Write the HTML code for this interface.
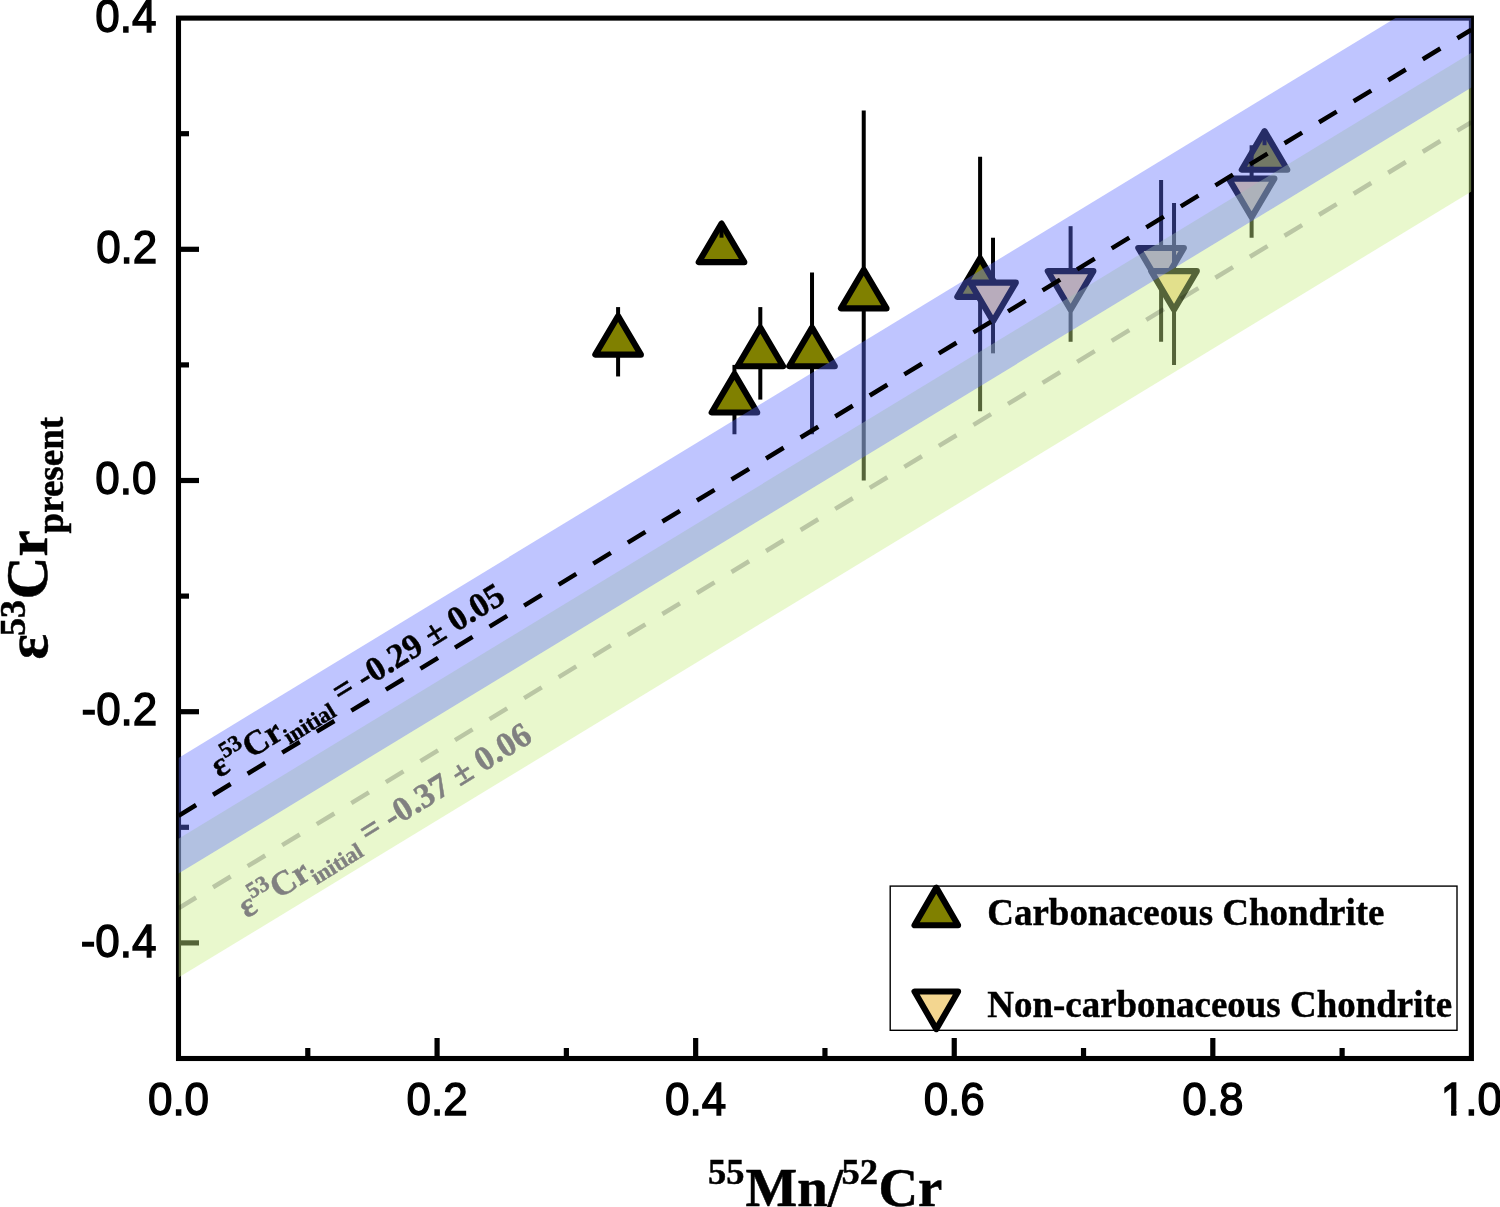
<!DOCTYPE html>
<html><head><meta charset="utf-8"><title>Mn-Cr isochron plot</title>
<style>
html,body{margin:0;padding:0;background:#fff;}
body{width:1500px;height:1207px;overflow:hidden;}
svg{display:block;}
.sans{font-family:"Liberation Sans",sans-serif;}
.serif{font-family:"Liberation Serif",serif;font-weight:bold;}
</style></head><body>
<svg width="1500" height="1207" viewBox="0 0 1500 1207">
<rect x="0" y="0" width="1500" height="1207" fill="#ffffff"/>
<defs><clipPath id="one"><path clip-rule="evenodd" d="M1400,1060H1500V1140H1400Z M1440,1109.4H1451.1V1118H1440Z M1456.4,1109.4H1465V1118H1456.4Z"/></clipPath><clipPath id="plot"><rect x="178.50" y="18.10" width="1292.90" height="1040.40"/></clipPath></defs>

<g stroke="#000" fill="none" stroke-linecap="butt">
<rect x="178.50" y="18.10" width="1292.90" height="1040.40" stroke-width="5.1"/>
<line x1="178.50" y1="942.90" x2="199.00" y2="942.90" stroke-width="5.2"/>
<line x1="178.50" y1="827.30" x2="189.00" y2="827.30" stroke-width="5.2"/>
<line x1="178.50" y1="711.70" x2="199.00" y2="711.70" stroke-width="5.2"/>
<line x1="178.50" y1="596.10" x2="189.00" y2="596.10" stroke-width="5.2"/>
<line x1="178.50" y1="480.50" x2="199.00" y2="480.50" stroke-width="5.2"/>
<line x1="178.50" y1="364.90" x2="189.00" y2="364.90" stroke-width="5.2"/>
<line x1="178.50" y1="249.30" x2="199.00" y2="249.30" stroke-width="5.2"/>
<line x1="178.50" y1="133.70" x2="189.00" y2="133.70" stroke-width="5.2"/>
<line x1="307.79" y1="1058.50" x2="307.79" y2="1048.00" stroke-width="5.2"/>
<line x1="437.08" y1="1058.50" x2="437.08" y2="1038.00" stroke-width="5.2"/>
<line x1="566.37" y1="1058.50" x2="566.37" y2="1048.00" stroke-width="5.2"/>
<line x1="695.66" y1="1058.50" x2="695.66" y2="1038.00" stroke-width="5.2"/>
<line x1="824.95" y1="1058.50" x2="824.95" y2="1048.00" stroke-width="5.2"/>
<line x1="954.24" y1="1058.50" x2="954.24" y2="1038.00" stroke-width="5.2"/>
<line x1="1083.53" y1="1058.50" x2="1083.53" y2="1048.00" stroke-width="5.2"/>
<line x1="1212.82" y1="1058.50" x2="1212.82" y2="1038.00" stroke-width="5.2"/>
<line x1="1342.11" y1="1058.50" x2="1342.11" y2="1048.00" stroke-width="5.2"/>
</g>
<line x1="618.09" y1="307.10" x2="618.09" y2="376.46" stroke="#000" stroke-width="4.0"/>
<path d="M595.29,354.65 L640.89,354.65 L618.09,316.05 Z" fill="#808000" stroke="#000" stroke-width="6.1" stroke-linejoin="round"/>
<path d="M698.72,262.17 L744.32,262.17 L721.52,223.57 Z" fill="#808000" stroke="#000" stroke-width="6.1" stroke-linejoin="round"/>
<line x1="721.52" y1="225.30" x2="721.52" y2="237.70" stroke="#000" stroke-width="4.0"/>
<line x1="734.45" y1="364.90" x2="734.45" y2="434.26" stroke="#000" stroke-width="4.0"/>
<path d="M711.65,412.45 L757.25,412.45 L734.45,373.85 Z" fill="#808000" stroke="#000" stroke-width="6.1" stroke-linejoin="round"/>
<line x1="760.31" y1="307.10" x2="760.31" y2="399.58" stroke="#000" stroke-width="4.0"/>
<path d="M737.51,366.21 L783.11,366.21 L760.31,327.61 Z" fill="#808000" stroke="#000" stroke-width="6.1" stroke-linejoin="round"/>
<line x1="812.02" y1="272.42" x2="812.02" y2="434.26" stroke="#000" stroke-width="4.0"/>
<path d="M789.22,366.21 L834.82,366.21 L812.02,327.61 Z" fill="#808000" stroke="#000" stroke-width="6.1" stroke-linejoin="round"/>
<line x1="863.74" y1="110.58" x2="863.74" y2="480.50" stroke="#000" stroke-width="4.0"/>
<path d="M840.94,308.41 L886.54,308.41 L863.74,269.81 Z" fill="#808000" stroke="#000" stroke-width="6.1" stroke-linejoin="round"/>
<line x1="980.10" y1="156.82" x2="980.10" y2="411.14" stroke="#000" stroke-width="4.0"/>
<path d="M957.30,296.85 L1002.90,296.85 L980.10,258.25 Z" fill="#808000" stroke="#000" stroke-width="6.1" stroke-linejoin="round"/>
<path d="M1241.74,169.69 L1287.34,169.69 L1264.54,131.09 Z" fill="#808000" stroke="#000" stroke-width="6.1" stroke-linejoin="round"/>
<line x1="1264.54" y1="132.82" x2="1264.54" y2="145.22" stroke="#000" stroke-width="4.0"/>
<line x1="993.03" y1="237.74" x2="993.03" y2="353.34" stroke="#000" stroke-width="4.0"/>
<path d="M970.23,282.67 L1015.83,282.67 L993.03,321.27 Z" fill="#F3D690" stroke="#000" stroke-width="6.1" stroke-linejoin="round"/>
<line x1="1070.60" y1="226.18" x2="1070.60" y2="341.78" stroke="#000" stroke-width="4.0"/>
<path d="M1047.80,271.11 L1093.40,271.11 L1070.60,309.71 Z" fill="#F3D690" stroke="#000" stroke-width="6.1" stroke-linejoin="round"/>
<line x1="1161.10" y1="179.94" x2="1161.10" y2="341.78" stroke="#000" stroke-width="4.0"/>
<path d="M1138.30,247.99 L1183.90,247.99 L1161.10,286.59 Z" fill="#F3D690" stroke="#000" stroke-width="6.1" stroke-linejoin="round"/>
<line x1="1174.03" y1="203.06" x2="1174.03" y2="364.90" stroke="#000" stroke-width="4.0"/>
<path d="M1151.23,271.11 L1196.83,271.11 L1174.03,309.71 Z" fill="#F3D690" stroke="#000" stroke-width="6.1" stroke-linejoin="round"/>
<line x1="1251.61" y1="145.26" x2="1251.61" y2="237.74" stroke="#000" stroke-width="4.0"/>
<path d="M1228.81,178.63 L1274.41,178.63 L1251.61,217.23 Z" fill="#F3D690" stroke="#000" stroke-width="6.1" stroke-linejoin="round"/>
<polygon points="178.50,838.86 1471.40,52.78 1471.40,191.50 178.50,977.58" fill="#CAEE87" fill-opacity="0.42" clip-path="url(#plot)"/>
<line x1="178.50" y1="908.22" x2="1471.40" y2="122.14" stroke="#000" stroke-opacity="0.2" stroke-width="4.5" stroke-dasharray="20.6 19.85" clip-path="url(#plot)"/>
<polygon points="178.50,757.94 1471.40,-28.14 1471.40,87.46 178.50,873.54" fill="#5F6EFF" fill-opacity="0.4" clip-path="url(#plot)"/>
<line x1="178.50" y1="815.74" x2="1471.40" y2="29.66" stroke="#000" stroke-opacity="1" stroke-width="4.5" stroke-dasharray="20.6 19.85" clip-path="url(#plot)"/>
<g class="sans" font-size="44.0" fill="#000" stroke="#000" stroke-width="1.3">
<text transform="translate(156.5,31.70) scale(1,1.05)" text-anchor="end">0.4</text>
<text transform="translate(157.3,262.90) scale(1,1.05)" text-anchor="end">0.2</text>
<text transform="translate(156.5,494.10) scale(1,1.05)" text-anchor="end">0.0</text>
<text transform="translate(157.3,725.30) scale(1,1.05)" text-anchor="end">-0.2</text>
<text transform="translate(156.5,956.50) scale(1,1.05)" text-anchor="end">-0.4</text>
<text transform="translate(178.50,1115.3) scale(1,1.05)" text-anchor="middle">0.0</text>
<text transform="translate(437.08,1115.3) scale(1,1.05)" text-anchor="middle">0.2</text>
<text transform="translate(695.66,1115.3) scale(1,1.05)" text-anchor="middle">0.4</text>
<text transform="translate(954.24,1115.3) scale(1,1.05)" text-anchor="middle">0.6</text>
<text transform="translate(1212.82,1115.3) scale(1,1.05)" text-anchor="middle">0.8</text>
<g clip-path="url(#one)"><text transform="translate(1471.40,1115.3) scale(1,1.05)" text-anchor="middle">1.0</text></g>
</g>
<text class="serif" fill="#000" stroke="#000" stroke-width="0.5"><tspan x="708.0" y="1183.5" font-size="36.5">55</tspan><tspan x="745.6" y="1206.4" font-size="54.8">Mn/</tspan><tspan x="841.4" y="1183.5" font-size="36.5">52</tspan><tspan x="878.4" y="1206.4" font-size="54.8">Cr</tspan></text>
<text class="serif" transform="translate(47.2,658.6) rotate(-90)" fill="#000" stroke="#000" stroke-width="0.5"><tspan x="-1" y="0" font-size="59.5">ε</tspan><tspan x="22.7" y="-22.2" font-size="36">53</tspan><tspan x="59.1" y="0" font-size="59.5">Cr</tspan><tspan x="125.2" y="15.6" font-size="37">present</tspan></text>
<text class="serif" font-size="34.3" transform="translate(219.3,778.2) rotate(-31.6)" fill="#000" stroke="#000" stroke-width="0.45">ε<tspan font-size="22.6" dy="-14.1">53</tspan><tspan dy="14.1">Cr</tspan><tspan font-size="22.6" dy="8.2">initial</tspan><tspan dy="-8.2"> = -0.29 ± 0.05</tspan></text>
<text class="serif" font-size="34.3" transform="translate(246.8,918.8) rotate(-31.8)" fill="#808080" stroke="#808080" stroke-width="0.45">ε<tspan font-size="22.6" dy="-14.1">53</tspan><tspan dy="14.1">Cr</tspan><tspan font-size="22.6" dy="8.2">initial</tspan><tspan dy="-8.2"> = -0.37 ± 0.06</tspan></text>
<rect x="890.2" y="886.1" width="566.8" height="144.2" fill="#fff" stroke="#000" stroke-width="1.4"/>
<path d="M914.50,925.25 L958.10,925.25 L936.30,887.65 Z" fill="#808000" stroke="#000" stroke-width="6.1" stroke-linejoin="round"/>
<path d="M914.50,991.55 L958.10,991.55 L936.30,1029.15 Z" fill="#F3D690" stroke="#000" stroke-width="6.1" stroke-linejoin="round"/>
<text class="serif" font-size="36.95" x="987.3" y="925" fill="#000" stroke="#000" stroke-width="0.4">Carbonaceous Chondrite</text>
<text class="serif" font-size="36.95" x="987.3" y="1017" fill="#000" stroke="#000" stroke-width="0.4">Non-carbonaceous Chondrite</text>
</svg></body></html>
